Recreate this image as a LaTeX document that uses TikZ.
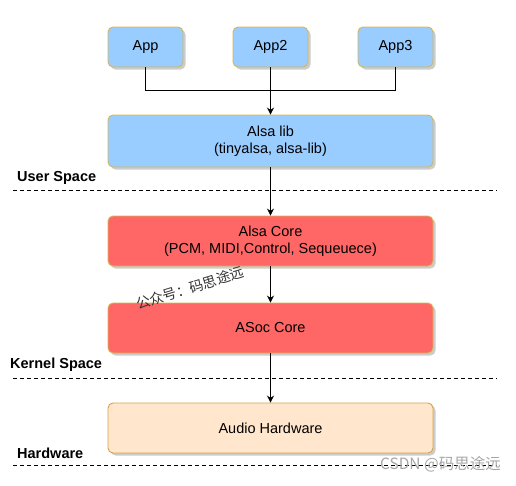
\documentclass[tikz,border=0pt]{standalone}
\usepackage{fontspec}
\setmainfont{Liberation Sans}
\newfontfamily\cjk{Noto Sans CJK SC}
\usetikzlibrary{shadows,arrows.meta}
\definecolor{bluefill}{HTML}{99CCFF}
\definecolor{redfill}{HTML}{FF6666}
\definecolor{peachfill}{HTML}{FFE6CC}
\definecolor{boxborder}{HTML}{D6B656}
\definecolor{hwborder}{HTML}{D6A24A}
\tikzset{
  box/.style={draw=boxborder, line width=0.9pt, rounded corners=5pt, align=center,
    font=\fontsize{14.5}{17}\selectfont, inner sep=0pt,
    drop shadow={shadow xshift=2.5pt, shadow yshift=-2.5pt, fill=black, opacity=0.2}},
  bluebox/.style={box, fill=bluefill},
  redbox/.style={box, fill=redfill},
  hwbox/.style={box, fill=peachfill, draw=hwborder},
  link/.style={line width=0.9pt, -{Stealth[length=7pt,width=7pt]}},
  plainlink/.style={line width=0.9pt},
  divider/.style={dashed, line width=0.8pt, dash pattern=on 4pt off 3pt},
  layerlabel/.style={font=\bfseries\fontsize{14.5}{16}\selectfont, anchor=west, inner sep=0pt},
  wmark/.style={text=gray!70, inner sep=0pt}
}
\begin{document}
\begin{tikzpicture}[x=1pt,y=-1pt]
\useasboundingbox (0,0) rectangle (516,485);
\node[bluebox, minimum width=75pt, minimum height=40pt] (app1) at (145.5,47) {App};
\node[bluebox, minimum width=75pt, minimum height=40pt] (app2) at (270.5,47) {App2};
\node[bluebox, minimum width=75pt, minimum height=40pt] (app3) at (395.5,47) {App3};
\node[bluebox, minimum width=325pt, minimum height=52pt] (lib) at (270.5,141) {Alsa lib\\(tinyalsa, alsa-lib)};
\node[redbox, minimum width=325pt, minimum height=50pt] (core) at (270.5,241) {Alsa Core\\(PCM, MIDI,Control, Sequeuece)};
\node[redbox, minimum width=325pt, minimum height=50pt] (asoc) at (270.5,328) {ASoc Core};
\node[hwbox, minimum width=325pt, minimum height=50pt] (hw) at (270.5,428) {Audio Hardware};

\coordinate (j) at (270.5,90);
\draw[plainlink] (app1.south) |- (j);
\draw[plainlink] (app3.south) |- (j);
\draw[link] (app2.south) -- (lib.north);
\draw[link] (lib.south) -- (core.north);
\draw[link] (core.south) -- (asoc.north);
\draw[link] (asoc.south) -- (hw.north);

\node[layerlabel] (us) at (17,178) {User Space};
\node[layerlabel] (ks) at (10,365) {Kernel Space};
\node[layerlabel] (hs) at (17,453) {Hardware};
\coordinate (d1a) at (13,190); \coordinate (d1b) at (497,190);
\coordinate (d2a) at (13,378); \coordinate (d2b) at (497,378);
\coordinate (d3a) at (13,465); \coordinate (d3b) at (497,465);
\draw[divider] (d1a) -- (d1b);
\draw[divider] (d2a) -- (d2b);
\draw[divider] (d3a) -- (d3b);

\node[wmark, rotate=17, font=\cjk\fontsize{14}{16}\selectfont, text=black!80] (wm) at (190,288) {公众号：码思途远};
\node[wmark, font=\cjk\fontsize{15.5}{17}\selectfont, anchor=east] (csdn) at (501,464) {CSDN @码思途远};
\end{tikzpicture}
\end{document}
